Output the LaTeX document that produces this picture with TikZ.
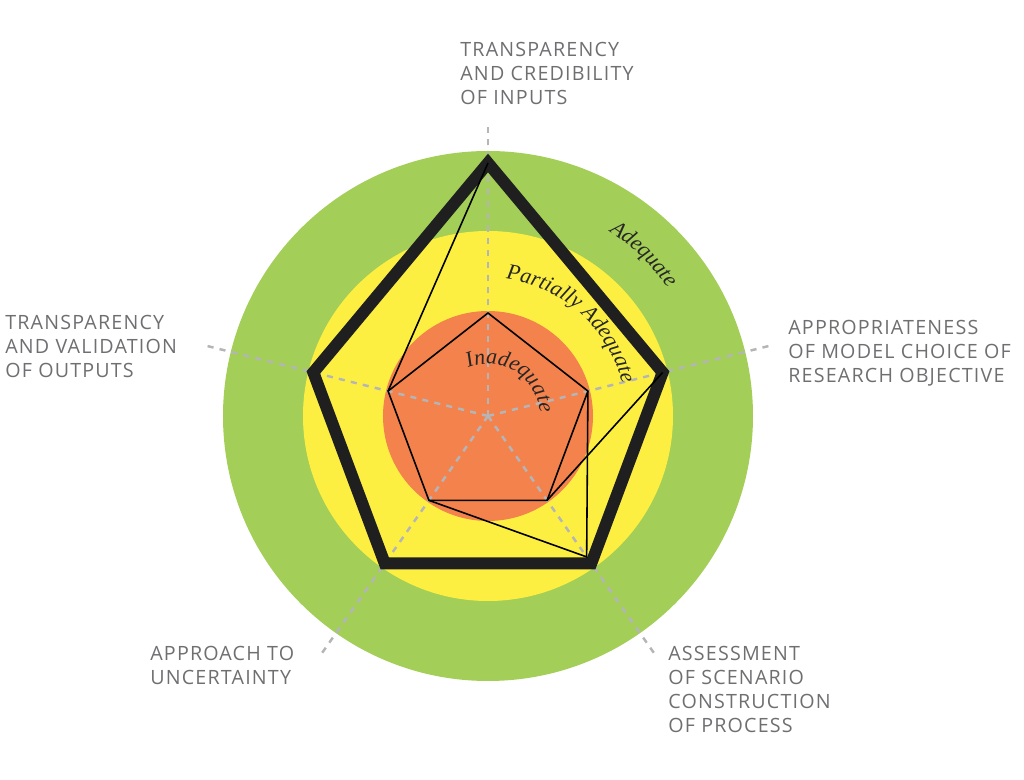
\documentclass[tikz,border=0pt]{standalone}
\usepackage{fontspec}
\newfontfamily\labelfont{Open Sans}[LetterSpace=6]
\setmainfont{Liberation Serif}
\usetikzlibrary{decorations.text}
\definecolor{adequate}{HTML}{A3CE57}
\definecolor{partial}{HTML}{FDEF42}
\definecolor{inadequate}{HTML}{F3824D}
\definecolor{axisgray}{HTML}{B5B5B8}
\definecolor{labelgray}{HTML}{6F6F72}
\tikzset{
  axis/.style={axisgray, line width=1.4pt, dash pattern=on 3.5pt off 3.5pt},
  criterion/.style={align=left, anchor=north west, inner sep=0pt, text=labelgray,
    font=\labelfont\fontsize{11.2}{13.6}\selectfont},
  zone/.style={decorate, decoration={text along path, text align=center,
    text={|\fontsize{12.5}{14}\itshape\color{black!85}|#1}}}
}
\begin{document}
\begin{tikzpicture}[x=0.02cm, y=0.02cm]
    \useasboundingbox (-488,-364) rectangle (536,416);
    % zones
    \fill[adequate] (0,0) circle (265);
    \fill[partial] (0,0) circle (185);
    \fill[inadequate] (0,0) circle (105);
    % axes
    \coordinate (O) at (0,0);
    \foreach \a in {90,14,-55,-125,166}
        \draw[axis] (O) -- (\a:290);
    % radar vertices
    \coordinate (T) at (90:253);
    \coordinate (R) at (14:180);
    \coordinate (BR) at (-55:180);
    \coordinate (BL) at (-125:180);
    \coordinate (L) at (166:180);
    \coordinate (iT) at (90:103);
    \coordinate (iR) at (14:103);
    \coordinate (iBR) at (-55:103);
    \coordinate (iBL) at (-125:103);
    \coordinate (iL) at (166:103);
    \coordinate (sBR) at (-55:172);
    \draw[line width=6.8pt, line join=miter, black!88] (T) -- (R) -- (BR) -- (BL) -- (L) -- cycle;
    \draw[line width=0.9pt] (iT) -- (iR) -- (iBR) -- (iBL) -- (iL) -- cycle;
    \draw[line width=0.9pt] (T) -- (iL);
    \draw[line width=0.9pt] (iBL) -- (sBR) -- (iR);
    \draw[line width=0.9pt] (R) -- (iBR);
    % zone names
    \path[zone=Adequate] (62:221) arc (62:30:221);
    \path[zone=Partially Adequate] (88:138) arc (88:8:138);
    \path[zone=Inadequate] (118:52) arc (118:-2:52);
    % criteria
    \node[criterion] (inputs) at (-28,374) {TRANSPARENCY\\AND CREDIBILITY\\OF INPUTS};
    \node[criterion] (model) at (300,96) {APPROPRIATENESS\\OF MODEL CHOICE OF\\RESEARCH OBJECTIVE};
    \node[criterion] (scenario) at (180,-230) {ASSESSMENT\\OF SCENARIO\\CONSTRUCTION\\OF PROCESS};
    \node[criterion] (uncertainty) at (-338,-230) {APPROACH TO\\UNCERTAINTY};
    \node[criterion] (outputs) at (-483,101) {TRANSPARENCY\\AND VALIDATION\\OF OUTPUTS};
\end{tikzpicture}
\end{document}
